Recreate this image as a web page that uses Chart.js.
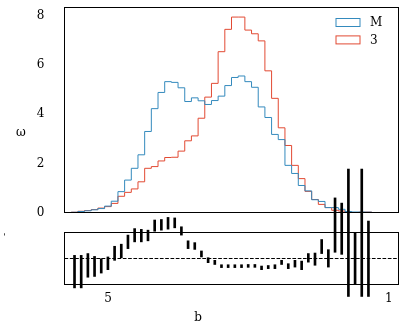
<!DOCTYPE html>
<html><head><meta charset="utf-8">
<script src="https://cdn.jsdelivr.net/npm/chart.js@4.4.1/dist/chart.umd.min.js"></script>
<style>
html,body{margin:0;padding:0;background:#fff;}
#wrap{position:relative;width:407px;height:334px;overflow:hidden;}
canvas{position:absolute;left:0;top:0;}
</style>
</head><body>
<div id="wrap"><canvas id="topc" width="407" height="334"></canvas><canvas id="botc" width="407" height="334"></canvas></div>
<script>
// ---- data ----
const seriesLabels = ['M', '3'];
const seriesColors = ['#348ABD', '#E24A33'];
const blueValues = [0, 0.01, 0.04, 0.07, 0.11, 0.16, 0.26, 0.46, 0.85, 1.32,
  1.80, 2.35, 3.30, 4.23, 4.89, 5.33, 5.30, 5.08, 4.52, 4.67,
  4.55, 4.40, 4.56, 4.74, 5.17, 5.50, 5.56, 5.33, 5.10, 4.30,
  3.87, 3.18, 2.97, 1.92, 1.59, 1.10, 0.88, 0.52, 0.45, 0.20,
  0.20, 0.13, 0.04, 0.02, 0.02, 0.015, 0, 0, 0, 0];
const redValues = [0, 0.01, 0.05, 0.08, 0.12, 0.18, 0.24, 0.37, 0.66, 0.82,
  0.96, 1.25, 1.80, 1.87, 2.10, 2.24, 2.25, 2.50, 2.92, 3.12,
  3.84, 4.70, 5.26, 6.55, 7.46, 7.96, 7.96, 7.43, 7.28, 6.99,
  5.77, 4.65, 3.45, 2.73, 1.92, 1.38, 0.86, 0.53, 0.33, 0.20,
  0.09, 0.06, 0.02, 0, 0.01, 0.015, 0, 0, 0, 0];
const ratioLow = [null, -0.13, -0.13, 0.28, 0.31, 0.44, 0.57, 0.93, 1.03, 1.38,
  1.64, 1.64, 1.68, 2.05, 2.09, 2.13, 2.18, 1.90, 1.38, 1.35,
  1.06, 0.84, 0.77, 0.65, 0.65, 0.65, 0.65, 0.66, 0.66, 0.57,
  0.61, 0.61, 0.77, 0.61, 0.67, 0.57, 0.86, 0.74, 1.19, 0.67,
  1.24, 1.16, -0.46, 0, -0.46, -0.46, null, null, null, null];
const ratioHigh = [null, 1.12, 1.12, 1.19, 1.08, 0.99, 1.06, 1.47, 1.55, 1.90,
  2.15, 2.12, 2.09, 2.48, 2.50, 2.58, 2.56, 2.22, 1.68, 1.61,
  1.29, 1.03, 0.93, 0.76, 0.76, 0.76, 0.76, 0.77, 0.77, 0.71,
  0.73, 0.76, 0.93, 0.80, 0.93, 0.90, 1.19, 1.21, 1.73, 1.34,
  3.33, 3.13, 4.44, 2.0, 4.44, 2.44, null, null, null, null];
const yTickValues = [0, 2, 4, 6, 8];
const xTickValues = [6.54, 48.54];
const xTickLabels = ['5', '1'];
const ratioReference = 1;
const yAxisTitle = 'ω';
const xAxisTitle = 'b';
const ratioAxisTitle = '-';

const FONT = '"DejaVu Serif", "Liberation Serif", serif';
Chart.defaults.font.family = FONT;
Chart.defaults.font.size = 12;
Chart.defaults.color = '#000';

const nBins = blueValues.length;
function stepPoints(values) {
  const pts = [{x: 0, y: 0}];
  values.forEach((v, k) => pts.push({x: k, y: v}));
  pts.push({x: values.length, y: 0});
  return pts;
}

const framePlugin = {
  id: 'frame',
  afterDraw(chart) {
    const ca = chart.chartArea, ctx = chart.ctx;
    ctx.save();
    ctx.strokeStyle = '#000'; ctx.lineWidth = 1;
    ctx.strokeRect(ca.left, ca.top, ca.right - ca.left, ca.bottom - ca.top);
    ctx.restore();
  }
};

const topDecor = {
  id: 'topDecor',
  afterDraw(chart) {
    const ctx = chart.ctx, ca = chart.chartArea;
    ctx.save();
    chart.data.datasets.forEach((ds, i) => {
      const bx = ca.right - 62.5, by = ca.top + 11 + i * 17.4;
      ctx.strokeStyle = ds.borderColor; ctx.lineWidth = 1;
      ctx.strokeRect(bx, by, 24, 8);
      ctx.fillStyle = '#000'; ctx.font = '12px ' + FONT;
      ctx.textBaseline = 'middle'; ctx.textAlign = 'left';
      ctx.fillText(ds.label, bx + 34, by + 4.5);
    });
    ctx.font = '12px ' + FONT; ctx.textAlign = 'center'; ctx.textBaseline = 'middle';
    ctx.fillText(yAxisTitle, 21, (ca.top + ca.bottom) / 2 + 23);
    ctx.restore();
  }
};

new Chart(document.getElementById('topc'), {
  type: 'line',
  data: {
    datasets: [
      {label: seriesLabels[0], data: stepPoints(blueValues), borderColor: seriesColors[0], borderWidth: 1, stepped: true, pointRadius: 0, fill: false},
      {label: seriesLabels[1], data: stepPoints(redValues), borderColor: seriesColors[1], borderWidth: 1, stepped: true, pointRadius: 0, fill: false}
    ]
  },
  options: {
    responsive: false, animation: false, devicePixelRatio: 1,
    layout: {padding: {top: 7.5, bottom: 121.5, left: 0, right: 8.5}},
    plugins: {legend: {display: false}, tooltip: {enabled: false}},
    scales: {
      x: {type: 'linear', display: false, min: 0, max: nBins, offset: false},
      y: {
        type: 'linear', min: 0, max: 8.35,
        grid: {display: false, drawTicks: false}, border: {display: false},
        ticks: {padding: 20, font: {size: 12}},
        afterBuildTicks: s => { s.ticks = yTickValues.map(v => ({value: v})); },
        afterFit: s => { s.width = 64.5; s.paddingTop = 0; s.paddingBottom = 0; }
      }
    }
  },
  plugins: [framePlugin, topDecor]
});

const botDecor = {
  id: 'botDecor',
  afterDraw(chart) {
    const ctx = chart.ctx, ca = chart.chartArea;
    ctx.save();
    ctx.fillStyle = '#000'; ctx.font = '12px ' + FONT;
    ctx.textAlign = 'center'; ctx.textBaseline = 'middle';
    ctx.fillText(xAxisTitle, ca.left + 0.4 * (ca.right - ca.left), 318);
    ctx.translate(5, ca.top + 2);
    ctx.rotate(-Math.PI / 2);
    ctx.font = '9px ' + FONT;
    ctx.fillText(ratioAxisTitle, 0, 0);
    ctx.restore();
  }
};

const errData = [];
ratioLow.forEach((lo, k) => {
  if (lo !== null && ratioHigh[k] !== null) errData.push({x: k + 0.5, y: [lo, ratioHigh[k]]});
});

new Chart(document.getElementById('botc'), {
  type: 'bar',
  data: {
    datasets: [
      {type: 'bar', data: errData, backgroundColor: '#000', borderWidth: 0, barThickness: 2, clip: false, order: 0},
      {type: 'line', data: [{x: 0, y: ratioReference}, {x: nBins, y: ratioReference}], borderColor: '#000', borderWidth: 1, borderDash: [3.7, 1.6], pointRadius: 0, fill: false, order: 1}
    ]
  },
  options: {
    responsive: false, animation: false, devicePixelRatio: 1,
    layout: {padding: {top: 232.5, bottom: 0, left: 0, right: 8.5}},
    plugins: {legend: {display: false}, tooltip: {enabled: false}},
    scales: {
      x: {
        type: 'linear', min: 0, max: nBins, offset: false,
        grid: {display: false, drawTicks: false, offset: false}, border: {display: false},
        ticks: {padding: 7, font: {size: 12}, callback: (v, i) => xTickLabels[i]},
        afterBuildTicks: s => { s.ticks = xTickValues.map(v => ({value: v})); },
        afterFit: s => { s.height = 49.5; }
      },
      y: {
        type: 'linear', min: 0, max: 2,
        grid: {display: false, drawTicks: false}, border: {display: false},
        ticks: {display: false},
        afterFit: s => { s.width = 64.5; s.paddingTop = 0; s.paddingBottom = 0; }
      }
    }
  },
  plugins: [framePlugin, botDecor]
});
</script>
</body></html>
